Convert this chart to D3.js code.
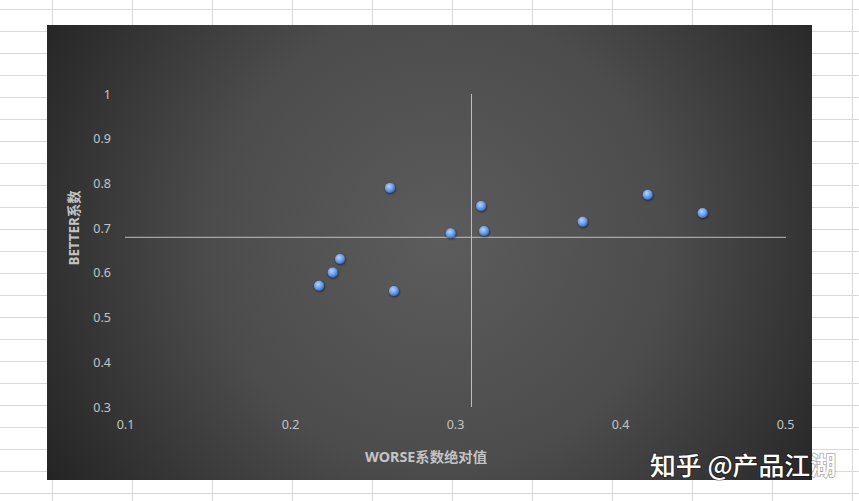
<!DOCTYPE html>
<html>
<head>
<meta charset="utf-8">
<script src="https://cdn.jsdelivr.net/npm/d3@7"></script>
<style>
html,body{margin:0;padding:0;background:#fff;overflow:hidden;}
svg{display:block;}
</style>
</head>
<body>
<svg id="c" width="859" height="501"></svg>
<script>
// ---- data ----
const worse = [0.2606, 0.3158, 0.3176, 0.2974, 0.2303, 0.2259, 0.2176, 0.2630, 0.3774, 0.4168, 0.4501];
const better = [0.790, 0.7495, 0.6936, 0.6885, 0.631, 0.601, 0.571, 0.5596, 0.7144, 0.7748, 0.7339];
const xTicks = [0.1, 0.2, 0.3, 0.4, 0.5];
const yTicks = [0.3, 0.4, 0.5, 0.6, 0.7, 0.8, 0.9, 1];
const avgWorse = 0.310;
const avgBetter = 0.6795;
const xTitle = "WORSE系数绝对值";
const yTitle = "BETTER系数";
const watermark = "知乎 @产品江湖";

const svg = d3.select("#c");
const W = 859, H = 501;

// spreadsheet grid background
const gridG = svg.append("g");
d3.range(52, W, 80).forEach(x => gridG.append("line").attr("x1", x + 0.5).attr("x2", x + 0.5).attr("y1", 0).attr("y2", H).attr("stroke", "#d9d9d9").attr("stroke-width", 1));
d3.range(9, H, 22).forEach(y => gridG.append("line").attr("y1", y + 0.5).attr("y2", y + 0.5).attr("x1", 0).attr("x2", W).attr("stroke", "#d9d9d9").attr("stroke-width", 1));

// gradients
const defs = svg.append("defs");
const bg = defs.append("radialGradient").attr("id", "bg")
  .attr("gradientUnits", "userSpaceOnUse").attr("cx", 440).attr("cy", 240).attr("r", 460);
bg.append("stop").attr("offset", "0%").attr("stop-color", "#5c5c5c");
bg.append("stop").attr("offset", "50%").attr("stop-color", "#4c4c4c");
bg.append("stop").attr("offset", "100%").attr("stop-color", "#242424");

const ball = defs.append("radialGradient").attr("id", "ball")
  .attr("cx", "40%").attr("cy", "35%").attr("r", "65%");
ball.append("stop").attr("offset", "0%").attr("stop-color", "#b4d2ff");
ball.append("stop").attr("offset", "60%").attr("stop-color", "#6b9fe8");
ball.append("stop").attr("offset", "100%").attr("stop-color", "#3c6fc0");

const shadow = defs.append("filter").attr("id", "sh").attr("x", "-50%").attr("y", "-50%").attr("width", "200%").attr("height", "200%");
shadow.append("feDropShadow").attr("dx", 0.5).attr("dy", 1).attr("stdDeviation", 1.2).attr("flood-color", "#000").attr("flood-opacity", 0.6);

// chart area
svg.append("rect").attr("x", 47).attr("y", 25).attr("width", 765).attr("height", 455).attr("fill", "url(#bg)");

const x = d3.scaleLinear().domain([0.1, 0.5]).range([125, 785]);
const y = d3.scaleLinear().domain([0.3, 1]).range([407, 94]);

const fontFam = "'Noto Sans', 'Noto Sans CJK SC', sans-serif";
const lab = "#c4c4c4";

// axes (labels only)
const xAxis = svg.append("g").attr("transform", "translate(0,407)")
  .call(d3.axisBottom(x).tickValues(xTicks).tickSize(0).tickPadding(13).tickFormat(d => d3.format("")(+d.toFixed(1))));
const yAxis = svg.append("g").attr("transform", "translate(125,0)")
  .call(d3.axisLeft(y).tickValues(yTicks).tickSize(0).tickPadding(14).tickFormat(d => d3.format("")(+d.toFixed(1))));
[xAxis, yAxis].forEach(a => {
  a.select(".domain").remove();
  a.selectAll("text").attr("fill", lab).attr("font-size", 12.5).attr("font-family", fontFam);
});

// reference lines
svg.append("line").attr("x1", x(0.1)).attr("x2", x(0.5) + 1).attr("y1", y(avgBetter)).attr("y2", y(avgBetter))
  .attr("stroke", "#bdbdbd").attr("stroke-width", 1);
svg.append("line").attr("x1", x(avgWorse)).attr("x2", x(avgWorse)).attr("y1", y(1)).attr("y2", y(0.3))
  .attr("stroke", "#bdbdbd").attr("stroke-width", 1);

// points
svg.append("g").selectAll("circle").data(worse.map((w, i) => [w, better[i]])).join("circle")
  .attr("cx", d => x(d[0])).attr("cy", d => y(d[1])).attr("r", 5)
  .attr("fill", "url(#ball)").attr("filter", "url(#sh)");

// titles
svg.append("text").attr("x", 426).attr("y", 462).attr("text-anchor", "middle")
  .attr("fill", lab).attr("font-size", 13.5).attr("font-weight", "bold").attr("font-family", fontFam)
  .attr("textLength", 122).attr("lengthAdjust", "spacingAndGlyphs").text(xTitle);
svg.append("text").attr("transform", "translate(79,228) rotate(-90)").attr("text-anchor", "middle")
  .attr("fill", lab).attr("font-size", 13.5).attr("font-weight", "bold").attr("font-family", fontFam)
  .attr("textLength", 75).attr("lengthAdjust", "spacingAndGlyphs").text(yTitle);

// watermark
svg.append("text").attr("x", 650).attr("y", 475).attr("fill", "#ffffff").attr("font-size", 25)
  .attr("font-family", "'Noto Sans CJK SC', sans-serif").attr("font-weight", 500)
  .attr("textLength", 186).attr("lengthAdjust", "spacingAndGlyphs")
  .style("paint-order", "stroke").attr("stroke", "rgba(0,0,0,0.3)").attr("stroke-width", 2)
  .text(watermark);
</script>
</body>
</html>
